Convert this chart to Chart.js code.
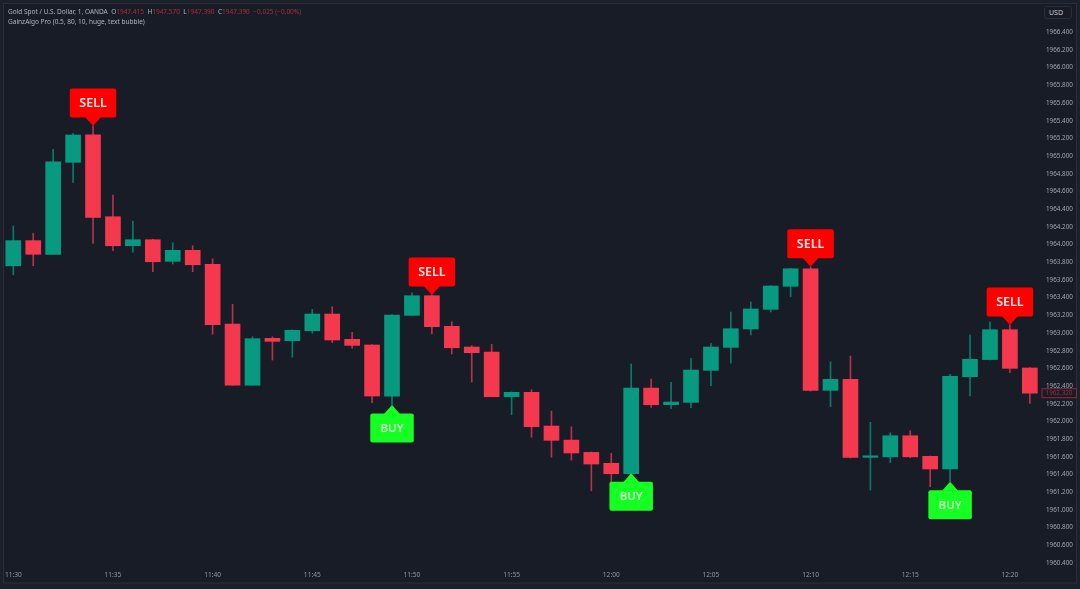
<!DOCTYPE html>
<html>
<head>
<meta charset="utf-8">
<title>Gold Spot / U.S. Dollar</title>
<script src="https://cdn.jsdelivr.net/npm/chart.js@4/dist/chart.umd.min.js"></script>
<style>
  html, body { margin: 0; padding: 0; background: #1c202b; overflow: hidden; }
  #wrap { position: relative; width: 1080px; height: 589px; }
  #chart { display: block; }
  #legend { position: absolute; left: 8px; top: 7px; font: 6.5px/9.5px "Noto Sans", sans-serif; color: #b2b5be; white-space: pre; }
  #legend span { color: #a82f3d; }
  #usd { position: absolute; left: 1044px; top: 6px; width: 28px; height: 13px; box-sizing: border-box; border: 1px solid #2a2e39; border-radius: 3px; font: 7px/11px "Noto Sans", sans-serif; color: #c8cad0; padding-left: 4px; background: #171b26; }
</style>
</head>
<body>
<div id="wrap">
  <canvas id="chart" width="1080" height="589"></canvas>
  <div id="legend">Gold Spot / U.S. Dollar, 1, OANDA  O<span>1947.415</span>  H<span>1947.570</span>  L<span>1947.390</span>  C<span>1947.390</span>  <span>−0.025 (−0.00%)</span>
GainzAlgo Pro (0.5, 80, 10, huge, text bubble)</div>
  <div id="usd">USD</div>
</div>
<script>
// candles, one per minute from 11:30
const opens = [1963.76, 1964.045, 1963.89, 1964.93, 1965.24, 1964.315, 1963.987, 1964.055, 1963.811, 1963.935,
  1963.777, 1963.102, 1962.41, 1962.94, 1962.913, 1963.026, 1963.215, 1962.929, 1962.865, 1962.285,
  1963.2, 1963.422, 1963.076, 1962.842, 1962.785, 1962.28, 1962.33, 1961.949, 1961.79, 1961.651,
  1961.527, 1961.41, 1962.378, 1962.19, 1962.216, 1962.578, 1962.838, 1963.046, 1963.268, 1963.528,
  1963.727, 1962.352, 1962.477, 1961.595, 1961.6, 1961.839, 1961.606, 1961.463, 1962.507, 1962.7,
  1963.038, 1962.605];
const highs = [1964.21, 1964.128, 1965.077, 1965.258, 1965.341, 1964.561, 1964.267, 1964.06, 1964.021, 1963.987,
  1963.84, 1963.325, 1962.958, 1962.958, 1963.035, 1963.268, 1963.298, 1963.008, 1962.87, 1963.21,
  1963.456, 1963.43, 1963.128, 1962.857, 1962.872, 1962.335, 1962.359, 1962.118, 1961.941, 1961.655,
  1961.64, 1962.65, 1962.48, 1962.443, 1962.714, 1962.884, 1963.238, 1963.351, 1963.536, 1963.73,
  1963.75, 1962.676, 1962.74, 1961.991, 1961.873, 1961.896, 1961.61, 1962.533, 1962.978, 1963.128,
  1963.091, 1962.61];
const lows = [1963.659, 1963.76, 1963.89, 1964.704, 1964.014, 1963.931, 1963.913, 1963.693, 1963.78, 1963.693,
  1962.986, 1962.41, 1962.41, 1962.695, 1962.726, 1962.997, 1962.891, 1962.827, 1962.212, 1962.186,
  1963.2, 1962.989, 1962.763, 1962.446, 1962.28, 1962.077, 1961.821, 1961.598, 1961.564, 1961.217,
  1961.319, 1961.414, 1962.16, 1962.144, 1962.156, 1962.404, 1962.658, 1962.978, 1963.238, 1963.411,
  1962.345, 1962.167, 1961.587, 1961.225, 1961.534, 1961.59, 1961.263, 1961.319, 1962.288, 1962.695,
  1962.551, 1962.205];
const closes = [1964.045, 1963.89, 1964.937, 1965.239, 1964.308, 1963.987, 1964.055, 1963.806, 1963.935, 1963.772,
  1963.094, 1962.412, 1962.936, 1962.906, 1963.031, 1963.215, 1962.921, 1962.861, 1962.288, 1963.204,
  1963.422, 1963.072, 1962.834, 1962.778, 1962.28, 1962.33, 1961.941, 1961.787, 1961.644, 1961.519,
  1961.41, 1962.378, 1962.19, 1962.22, 1962.582, 1962.842, 1963.049, 1963.272, 1963.532, 1963.727,
  1962.352, 1962.477, 1961.595, 1961.61, 1961.839, 1961.6, 1961.463, 1962.511, 1962.703, 1963.038,
  1962.601, 1962.32];

const sellBars = [4, 21, 40, 50];
const buyBars = [19, 31, 47];

const timeBars = [0, 5, 10, 15, 20, 25, 30, 35, 40, 45, 50];
const timeLabels = ['11:30', '11:35', '11:40', '11:45', '11:50', '11:55', '12:00', '12:05', '12:10', '12:15', '12:20'];
const priceTicks = [1960.4, 1960.6, 1960.8, 1961, 1961.2, 1961.4, 1961.6, 1961.8, 1962, 1962.2, 1962.4, 1962.6,
  1962.8, 1963, 1963.2, 1963.4, 1963.6, 1963.8, 1964, 1964.2, 1964.4, 1964.6, 1964.8, 1965, 1965.2, 1965.4,
  1965.6, 1965.8, 1966, 1966.2, 1966.4];
const lastPrice = 1962.32;

const UP = '#089981';
const DOWN = '#f4394e';
const UP_WICK = '#0b7a6c';
const DOWN_WICK = '#b8324a';
const barColor = i => closes[i] >= opens[i] ? UP : DOWN;
const wickColor = i => closes[i] >= opens[i] ? UP_WICK : DOWN_WICK;

// background and the thin frame round the pane
const framePlugin = {
  id: 'frame',
  beforeDraw(chart) {
    const ctx = chart.ctx;
    ctx.save();
    ctx.fillStyle = '#181c27';
    ctx.fillRect(4, 4, 1072, 579);
    ctx.strokeStyle = '#2a2e39';
    ctx.lineWidth = 1;
    ctx.strokeRect(3.5, 3.5, 1073, 579.5);
    ctx.restore();
  }
};

function bubble(ctx, cx, tipY, dir, w, size, color, textColor, label) {
  // dir = 1 bubble above the tip (sell), dir = -1 below (buy)
  const h = 29, gap = 8.5, r = 2, half = 8;
  const near = tipY - dir * gap;
  const far = near - dir * h;
  ctx.fillStyle = color;
  ctx.beginPath();
  ctx.roundRect(cx - w / 2, Math.min(near, far), w, h, r);
  ctx.fill();
  ctx.beginPath();
  ctx.moveTo(cx - half, near + dir * -0.5);
  ctx.lineTo(cx, tipY);
  ctx.lineTo(cx + half, near + dir * -0.5);
  ctx.closePath();
  ctx.fill();
  ctx.fillStyle = textColor;
  ctx.font = '600 ' + size + 'px "Noto Sans", sans-serif';
  ctx.textAlign = 'center';
  ctx.textBaseline = 'middle';
  ctx.fillText(label, cx, (near + far) / 2 + 0.5);
}

const markerPlugin = {
  id: 'markers',
  afterDraw(chart) {
    const ctx = chart.ctx, x = chart.scales.x, y = chart.scales.y;
    ctx.save();
    sellBars.forEach(i => bubble(ctx, x.getPixelForValue(i), y.getPixelForValue(highs[i]), 1, 46.5, 12.5, '#ff0000', '#ffecec', 'SELL'));
    buyBars.forEach(i => bubble(ctx, x.getPixelForValue(i), y.getPixelForValue(lows[i]), -1, 43.5, 11.5, '#16ff22', '#c8ffc8', 'BUY'));

    // last price tag on the axis
    const py = y.getPixelForValue(lastPrice);
    ctx.fillStyle = '#181c27';
    ctx.fillRect(1042, py - 4.5, 34.5, 9);
    ctx.strokeStyle = '#8c2a36';
    ctx.lineWidth = 1;
    ctx.strokeRect(1042, py - 4.5, 34.5, 9);
    ctx.fillStyle = '#9c2c39';
    ctx.font = '6.3px "Noto Sans", sans-serif';
    ctx.textAlign = 'center';
    ctx.textBaseline = 'middle';
    ctx.fillText(lastPrice.toFixed(3), 1059, py);
    ctx.restore();
  }
};

const indices = opens.map((_, i) => i);

new Chart(document.getElementById('chart'), {
  type: 'bar',
  data: {
    datasets: [
      {
        label: 'body',
        order: 1,
        data: indices.map(i => ({ x: i, y: [opens[i], closes[i]] })),
        backgroundColor: indices.map(barColor),
        barThickness: 15,
        minBarLength: 1.5,
        grouped: false
      },
      {
        label: 'wick',
        order: 2,
        data: indices.map(i => ({ x: i, y: [lows[i], highs[i]] })),
        backgroundColor: indices.map(wickColor),
        barThickness: 1,
        grouped: false
      }
    ]
  },
  options: {
    responsive: false,
    animation: false,
    layout: { padding: { left: 4, top: 4, bottom: 6, right: 0 } },
    plugins: { legend: { display: false }, tooltip: { enabled: false } },
    scales: {
      x: {
        type: 'linear',
        offset: false,
        min: -0.467,
        max: 51.51,
        grid: { display: false, drawTicks: false },
        border: { display: false },
        afterBuildTicks: s => { s.ticks = timeBars.map(v => ({ value: v })); },
        afterFit: s => { s.height = 16; s.paddingLeft = 0; s.paddingRight = 0; },
        ticks: {
          autoSkip: false,
          maxRotation: 0,
          padding: 4,
          color: '#9598a1',
          font: { family: '"Noto Sans", sans-serif', size: 6.6 },
          callback: v => timeLabels[timeBars.indexOf(v)]
        }
      },
      y: {
        position: 'right',
        min: 1960.355,
        max: 1966.72,
        grid: { display: false, drawTicks: false },
        border: { display: false },
        afterBuildTicks: s => { s.ticks = priceTicks.map(v => ({ value: v })); },
        afterFit: s => { s.width = 40; s.paddingTop = 0; s.paddingBottom = 0; },
        ticks: {
          autoSkip: false,
          padding: 6,
          color: '#a3a6af',
          font: { family: '"Noto Sans", sans-serif', size: 6.3 },
          callback: v => v.toFixed(3)
        }
      }
    }
  },
  plugins: [framePlugin, markerPlugin]
});
</script>
</body>
</html>
